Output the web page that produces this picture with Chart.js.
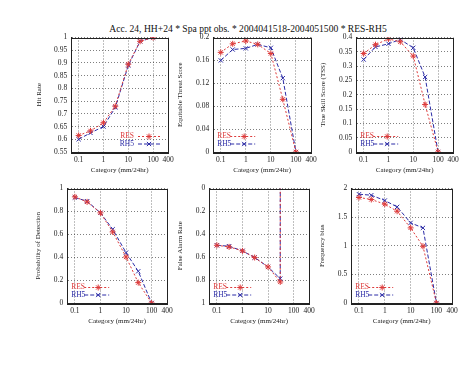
<!DOCTYPE html>
<html lang="en">
<head>
<meta charset="UTF-8" />
<title>Acc. 24 verification scores</title>
<script src="https://cdn.jsdelivr.net/npm/chart.js"></script>
<style>
  body {
    margin: 0;
    background: #fff;
    width: 474px;
    height: 366px;
    position: relative;
    overflow: hidden;
    font-family: "Liberation Serif", serif;
  }
  #title {
    position: absolute;
    left: 11px;
    top: 23px;
    width: 474px;
    text-align: center;
    font-size: 9.6px;
    color: #111;
  }
  canvas { position: absolute; }
</style>
</head>
<body>

<div id="title">Acc. 24, HH+24 * Spa ppt obs. * 2004041518-2004051500 * RES-RH5</div>

<script>
  // precipitation thresholds (mm/24hr)
  const categories = [0.1, 0.3, 1, 3, 10, 30, 100];
  const xTicks = [0.1, 1, 10, 100, 400];
  const seriesNames = ["RES", "RH5"];

  const hitRes = [0.615, 0.633, 0.665, 0.73, 0.895, 0.985, 1.0];
  const hitRh5 = [0.60, 0.625, 0.65, 0.725, 0.89, 0.985, 1.0];

  const etsRes = [0.174, 0.189, 0.194, 0.188, 0.172, 0.092, 0];
  const etsRh5 = [0.160, 0.179, 0.181, 0.188, 0.182, 0.129, 0];

  const tssRes = [0.344, 0.375, 0.395, 0.385, 0.335, 0.166, 0];
  const tssRh5 = [0.323, 0.367, 0.378, 0.393, 0.364, 0.262, 0];

  const podRes = [0.927, 0.883, 0.787, 0.621, 0.402, 0.178, 0];
  const podRh5 = [0.921, 0.889, 0.787, 0.644, 0.440, 0.277, 0];

  // last category has no events: written as a missing-value flag
  const farRes = [0.496, 0.51, 0.545, 0.603, 0.685, 0.816, -999];
  const farRh5 = [0.496, 0.504, 0.545, 0.603, 0.685, 0.787, -999];

  const biasRes = [1.843, 1.808, 1.726, 1.603, 1.312, 0.991, 0];
  const biasRh5 = [1.90, 1.883, 1.79, 1.679, 1.40, 1.312, 0];

  const RED = "#dd3a3a";
  const BLUE = "#2b2ba6";
  const FONT = "'Liberation Serif', 'Times New Roman', serif";

  const panels = [
    { name: "Hit Rate", res: hitRes, rh5: hitRh5, min: 0.55, max: 1, step: 0.05,
      l: 71, r: 168, t: 37, b: 152, tx: 39, key: "right" },
    { name: "Equitable Threat Score", res: etsRes, rh5: etsRh5, min: 0, max: 0.2, step: 0.02,
      l: 213, r: 311, t: 37, b: 152, tx: 180, key: "left" },
    { name: "True Skill Score (TSS)", res: tssRes, rh5: tssRh5, min: 0, max: 0.4, step: 0.05,
      l: 356, r: 453, t: 37, b: 152, tx: 323, key: "left" },
    { name: "Probability of Detection", res: podRes, rh5: podRh5, min: 0, max: 1, step: 0.2,
      l: 67, r: 167, t: 188, b: 303, tx: 38, key: "left" },
    { name: "False Alarm Rate", res: farRes, rh5: farRh5, min: 0, max: 1, step: 0.2, reverse: true,
      l: 209, r: 309, t: 188, b: 303, tx: 180, key: "left" },
    { name: "Frequency bias", res: biasRes, rh5: biasRh5, min: 0, max: 2, step: 0.5,
      l: 351, r: 452, t: 188, b: 303, tx: 322, key: "left" }
  ];

  const styles = [
    { color: RED, dash: [2, 2], point: "star" },
    { color: BLUE, dash: [4, 2], point: "crossRot" }
  ];

  // closed frame round the plot and the gnuplot-style key inside it
  const frameAndKey = {
    id: "frameAndKey",
    afterDatasetsDraw(chart, args, opts) {
      const { ctx, chartArea: a } = chart;
      ctx.save();
      ctx.setLineDash([]);
      ctx.lineWidth = 1;
      ctx.strokeStyle = "#222";
      ctx.strokeRect(Math.round(a.left) + 0.5, Math.round(a.top) + 0.5,
        Math.round(a.right - a.left), Math.round(a.bottom - a.top));

      ctx.font = "7.5px " + FONT;
      ctx.textBaseline = "middle";
      seriesNames.forEach((name, i) => {
        const st = styles[i];
        const y = a.bottom - 15.5 + i * 7.5;
        let textX, x0, x1, mx;
        if (opts.corner === "right") {
          textX = a.right - 34; x0 = a.right - 30; x1 = a.right - 6; mx = a.right - 19;
          ctx.textAlign = "right";
        } else {
          textX = a.left + 4; x0 = a.left + 17; x1 = a.left + 42; mx = a.left + 31;
          ctx.textAlign = "left";
        }
        ctx.fillStyle = st.color;
        ctx.fillText(name, textX, y);
        ctx.strokeStyle = st.color;
        ctx.setLineDash(st.dash);
        ctx.beginPath();
        ctx.moveTo(x0, y);
        ctx.lineTo(x1, y);
        ctx.stroke();
        ctx.setLineDash([]);
        Chart.helpers.drawPoint(ctx, { pointStyle: st.point, radius: 3, rotation: 0, borderWidth: 1 }, mx, y);
      });
      ctx.restore();
    }
  };

  function dataset(label, values, st) {
    return {
      label,
      data: categories.map((c, i) => ({ x: c, y: values[i] })),
      borderColor: st.color,
      borderWidth: 1,
      borderDash: st.dash,
      pointStyle: st.point,
      pointRadius: 3,
      pointBorderColor: st.color,
      pointBackgroundColor: st.color,
      pointBorderWidth: 1,
      tension: 0,
      fill: false
    };
  }

  function fmt(v) {
    return String(parseFloat(Number(v).toFixed(3)));
  }

  panels.forEach(p => {
    const padTop = 8, padRight = 12, xH = 22;
    const yW = p.l - (p.tx - 4.2);
    const w = Math.round(yW + (p.r - p.l) + padRight);
    const h = padTop + (p.b - p.t) + xH;

    const canvas = document.createElement("canvas");
    canvas.width = w;
    canvas.height = h;
    canvas.style.left = (p.l - yW) + "px";
    canvas.style.top = (p.t - padTop) + "px";
    document.body.appendChild(canvas);

    const grid = { color: "rgba(0,0,0,0.5)", lineWidth: 1, drawTicks: false };
    const border = { color: "#222", width: 1, dash: [1, 2] };

    new Chart(canvas, {
      type: "line",
      data: {
        datasets: [
          dataset(seriesNames[0], p.res, styles[0]),
          dataset(seriesNames[1], p.rh5, styles[1])
        ]
      },
      options: {
        responsive: false,
        animation: false,
        layout: { padding: { top: padTop, right: padRight, left: 0, bottom: 0 } },
        plugins: {
          legend: { display: false },
          tooltip: { enabled: false },
          frameAndKey: { corner: p.key }
        },
        scales: {
          x: {
            type: "logarithmic",
            min: 0.05,
            max: 400,
            afterBuildTicks: s => { s.ticks = xTicks.map(v => ({ value: v })); },
            afterFit: s => { s.height = xH; },
            grid,
            border,
            ticks: {
              autoSkip: false,
              maxRotation: 0,
              padding: 4,
              color: "#222",
              font: { family: FONT, size: 7.5 },
              callback: v => fmt(v)
            },
            title: {
              display: true,
              text: "Category (mm/24hr)",
              color: "#222",
              padding: 0,
              font: { family: FONT, size: 7 }
            }
          },
          y: {
            type: "linear",
            min: p.min,
            max: p.max,
            reverse: !!p.reverse,
            afterFit: s => { s.width = yW; },
            grid,
            border,
            ticks: {
              stepSize: p.step,
              padding: 4,
              color: "#222",
              font: { family: FONT, size: 7.5 },
              callback: v => fmt(v)
            },
            title: {
              display: true,
              text: p.name,
              color: "#222",
              padding: 0,
              font: { family: FONT, size: 7 }
            }
          }
        }
      },
      plugins: [frameAndKey]
    });
  });
</script>

</body>
</html>
